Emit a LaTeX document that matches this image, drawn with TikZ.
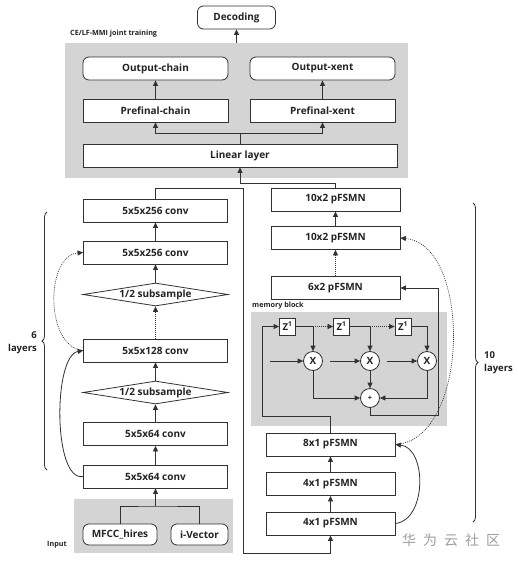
\documentclass[tikz,border=0pt]{standalone}
\usepackage{fontspec}
\setmainfont{Open Sans}
\newfontfamily\cjkfont{Noto Sans CJK SC}
\usetikzlibrary{arrows.meta,shapes.geometric,decorations.pathreplacing}
\definecolor{bggray}{RGB}{212,212,212}
\definecolor{ln}{RGB}{50,50,50}
\definecolor{tx}{RGB}{35,35,35}
\begin{document}
\begin{tikzpicture}[x=1pt,y=-1pt,
  box/.style={draw=ln, fill=white, line width=0.8pt, inner sep=0pt, minimum height=23pt, text=tx, font=\bfseries\fontsize{10}{11}\selectfont},
  rbox/.style={box, rounded corners=6pt},
  dmd/.style={box, diamond, aspect=6.3, minimum width=145pt, minimum height=23pt},
  zbox/.style={box, minimum width=16pt, minimum height=17pt, font=\bfseries\fontsize{9.5}{10}\selectfont},
  op/.style={box, circle, minimum size=19pt, minimum height=19pt, font=\bfseries\fontsize{10}{10}\selectfont},
  bg/.style={fill=bggray, draw=none, inner sep=0pt},
  lbl/.style={text=tx, inner sep=0pt, font=\bfseries\fontsize{7.2}{8}\selectfont},
  brlbl/.style={text=tx, inner sep=0pt, font=\bfseries\fontsize{9.5}{13}\selectfont},
  arr/.style={-{Triangle[length=5.5pt,width=5pt]}, draw=ln, line width=0.8pt},
  ln/.style={draw=ln, line width=0.8pt},
  dots/.style={dash pattern=on 0.9pt off 1.1pt, line width=0.7pt},
  brc/.style={draw=ln, line width=0.8pt, decorate, decoration={brace, amplitude=5pt}}
]
\useasboundingbox (0,0) rectangle (518,565);
\fill[white] (0,0) rectangle (518,565);

% ---------- gray backgrounds ----------
\node[bg, minimum width=343pt, minimum height=135pt] (joint) at (236.5,110.5) {};
\node[bg, minimum width=159pt, minimum height=54pt] (inbg) at (153.5,526) {};
\node[bg, minimum width=196pt, minimum height=114pt] (membg) at (349,369) {};

% ---------- labels ----------
\node[lbl, anchor=west] (jl) at (70,34) {CE/LF-MMI joint training};
\node[lbl, anchor=west] (ml) at (252,306) {memory block};
\node[lbl] (il) at (57,545) {Input};

% ---------- top part ----------
\node[rbox, minimum width=78pt] (dec) at (236.5,17.5) {Decoding};
\node[rbox, minimum width=145pt] (oc) at (155.5,68.5) {Output-chain};
\node[rbox, minimum width=145pt] (ox) at (322.5,68.5) {Output-xent};
\node[box, minimum width=145pt] (pc) at (155.5,110.5) {Prefinal-chain};
\node[box, minimum width=145pt] (px) at (322.5,110.5) {Prefinal-xent};
\node[box, minimum width=314pt] (lin) at (240,155.5) {Linear layer};

\draw[arr] (joint.north) -- (dec.south);
\draw[arr] (pc.north) -- (oc.south);
\draw[arr] (px.north) -- (ox.south);
\coordinate (f1) at (240,133);
\draw[ln] (lin.north) -- (f1);
\draw[arr] (f1) -| (pc.south);
\draw[arr] (f1) -| (px.south);

% ---------- left column ----------
\node[box, minimum width=144pt] (c256a) at (155.5,210.5) {5x5x256 conv};
\node[box, minimum width=144pt] (c256b) at (155.5,252.5) {5x5x256 conv};
\node[dmd] (sub1) at (155.5,294.5) {1/2 subsample};
\node[box, minimum width=144pt] (c128) at (155.5,350.5) {5x5x128 conv};
\node[dmd] (sub2) at (155.5,392.5) {1/2 subsample};
\node[box, minimum width=144pt] (c64a) at (155.5,434) {5x5x64 conv};
\node[box, minimum width=144pt] (c64b) at (155.5,476.5) {5x5x64 conv};
\node[rbox, minimum width=74pt, minimum height=21pt] (mfcc) at (120,534.5) {MFCC\_hires};
\node[rbox, minimum width=57pt, minimum height=21pt] (ivec) at (199.5,534.5) {i-Vector};

\draw[arr] (c256b.north) -- (c256a.south);
\draw[arr] (sub1.north) -- (c256b.south);
\draw[arr, dots] (c128.north) -- (sub1.south);
\draw[arr] (sub2.north) -- (c128.south);
\draw[arr] (c64a.north) -- (sub2.south);
\draw[arr] (c64b.north) -- (c64a.south);
\coordinate (fk) at (155.5,506);
\draw[ln] (mfcc.north) |- (fk) -| (ivec.north);
\draw[arr] (fk) -- (c64b.south);

\draw[arr, dots] (c128.west) .. controls (45,347) and (45,256) .. (c256b.west);
\draw[arr] (c64b.west) .. controls (53,482) and (53,356) .. (c128.west);

\draw[brc] (47,470) -- (47,212);
\node[brlbl, align=right, anchor=east] (l6) at (37,343) {6\\layers};

% ---------- right column ----------
\node[box, minimum width=129pt] (f10a) at (335.5,199.5) {10x2 pFSMN};
\node[box, minimum width=129pt] (f10b) at (335.5,238) {10x2 pFSMN};
\node[box, minimum width=129pt] (f6) at (335.5,288) {6x2 pFSMN};
\node[box, minimum width=129pt] (f8) at (330.5,444.5) {8x1 pFSMN};
\node[box, minimum width=129pt] (f4a) at (330.5,484) {4x1 pFSMN};
\node[box, minimum width=129pt] (f4b) at (330.5,523.5) {4x1 pFSMN};

\draw[arr] (f4b.north) -- (f4a.south);
\draw[arr] (f4a.north) -- (f8.south);
\draw[arr, dots] (f6.north) -- (f10b.south);
\draw[arr] (f10b.north) -- (f10a.south);
\coordinate (j2) at (240,183);
\draw[arr] (f10a.north) |- (j2) -- (lin.south);

\coordinate (cA) at (243,188);
\coordinate (cB) at (243,553);
\draw[arr] (c256a.north) |- (cA) -- (cB) -| (f4b.south);

\draw[arr] (f4b.east) .. controls (427,520) and (427,448) .. (f8.east);
\draw[arr, dots] (f8.east) .. controls (470,440) and (472,245) .. (f10b.east);

\draw[brc] (473,203) -- (473,522);
\node[brlbl, align=left, anchor=west] (l10) at (484,363) {10\\layers};

% ---------- memory block ----------
\node[zbox] (z1) at (287.5,326.5) {Z\textsuperscript{1}};
\node[zbox] (z2) at (341.5,326.5) {Z\textsuperscript{1}};
\node[zbox] (z3) at (403,326.5) {Z\textsuperscript{1}};
\node[op] (x1) at (313,361) {X};
\node[op] (x2) at (370,361) {X};
\node[op] (x3) at (427,361) {X};
\node[op, font=\bfseries\fontsize{7.5}{8}\selectfont] (plus) at (370,398) {+};

\draw[arr] (z1.east) -| (x1.north);
\draw[arr] (z2.east) -| (x2.north);
\draw[arr] (z3.east) -| (x3.north);
\draw[arr, dots] (x1.north |- z1.east) -- (z2.west);
\draw[arr, dots] (x2.north |- z2.east) -- (z3.west);

\coordinate (in1) at (270,361);
\coordinate (in2) at (330,361);
\coordinate (in3) at (387,361);
\draw[arr] (in1) -- (x1.west);
\draw[arr] (in2) -- (x2.west);
\draw[arr] (in3) -- (x3.west);

\draw[arr] (x1.south) |- (plus.west);
\draw[arr] (x2.south) -- (plus.north);
\draw[arr] (x3.south) |- (plus.east);

\coordinate (po) at (438,415);
\draw[arr] (plus.south) |- (po) |- (f6.east);
\coordinate (fb) at (262,416);
\draw[arr] (f8.north) |- (fb) |- (z1.west);

% ---------- watermark ----------
\node[inner sep=0pt, text=black!38, font=\cjkfont\fontsize{14}{14}\selectfont] (wm) at (451,540) {华\hspace{7pt}为\hspace{7pt}云\hspace{7pt}社\hspace{7pt}区};
\end{tikzpicture}
\end{document}
